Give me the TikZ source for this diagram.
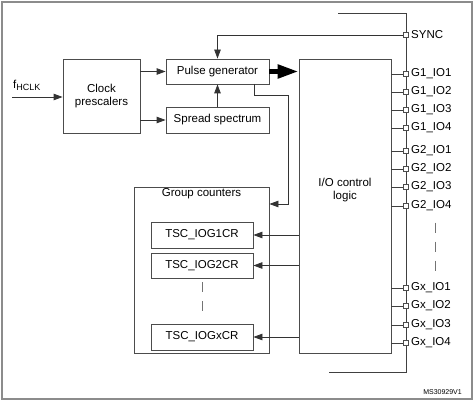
\documentclass[tikz,border=0pt]{standalone}
\usepackage{fontspec}
\setmainfont{Liberation Sans}
\usetikzlibrary{arrows.meta}

\tikzset{
  box/.style={draw=black!70,line width=0.8pt,inner sep=0pt},
  pin/.style={draw=black!70,fill=white,line width=0.6pt,minimum size=4.5pt,inner sep=0pt},
  wire/.style={draw=black!75,line width=0.8pt},
  ->/.style={draw=black!80,line width=0.8pt,-{Triangle[length=9pt,width=6.5pt]}},
  bigarrow/.style={draw=black,line width=5pt,-{Triangle[length=21pt,width=13pt]}},
  gap/.style={draw=black!55,line width=0.8pt,dash pattern=on 10pt off 9pt}
}
\tikzstyle{every node}=[color=black,font=\fontsize{11.5}{13.5}\selectfont]

\begin{document}
\begin{tikzpicture}[x=1pt,y=-1pt]
    \useasboundingbox (0,0) rectangle (474,401);
    \draw[black!45,line width=2pt] (2,2) rectangle (472,399);

    \node[box,minimum width=77pt,minimum height=74pt,align=center] (clk) at (101.5,96) {Clock\\prescalers};
    \node[box,minimum width=103pt,minimum height=25pt] (pulse) at (217.5,71.5) {Pulse generator};
    \node[box,minimum width=103pt,minimum height=26pt] (spread) at (217.5,120) {Spread spectrum};
    \node[box,minimum width=92pt,minimum height=294pt] (io) at (345,206) {};
    \node[align=center] (iotxt) at (345,190) {I/O control\\logic};

    \node[box,minimum width=135pt,minimum height=166pt] (grp) at (201.5,270) {};
    \node (grptxt) at (201.5,194) {Group counters};
    \node[box,minimum width=102pt,minimum height=26pt] (r1) at (202,235) {TSC\_IOG1CR};
    \node[box,minimum width=102pt,minimum height=25pt] (r2) at (202,265.5) {TSC\_IOG2CR};
    \node[box,minimum width=102pt,minimum height=26pt] (rx) at (202,337) {TSC\_IOGxCR};

    \coordinate (fin) at (12,97);
    \node[anchor=south west,inner sep=1pt] (ftxt) at (12,92) {f{\fontsize{9}{9}\selectfont\raisebox{-0.45ex}{HCLK}}};
    \draw [->] (fin) -- (clk.west |- fin);
    \draw [->] (clk.east |- pulse) -- (pulse.west);
    \draw [->] (clk.east |- spread) -- (spread.west);
    \draw [->] (spread.north) -- (pulse.south);
    \draw [bigarrow] (pulse.east) -- (io.west |- pulse.east);

    \coordinate (tap) at (254,84);
    \coordinate (bend) at (288,95);
    \draw [->] (tap) |- (bend) |- (grp.east |- 0,204);

    \draw [->] (io.west |- r1) -- (r1.east);
    \draw [->] (io.west |- r2) -- (r2.east);
    \draw [->] (io.west |- rx) -- (rx.east);
    \draw [gap] ([yshift=-4pt]r2.south) -- ([yshift=6pt]rx.north);

    \coordinate (bustl) at (338,13);
    \coordinate (bustop) at (406,13);
    \coordinate (busbot) at (406,372);
    \coordinate (busbl) at (329,372);
    \draw [wire] (bustl) -- (bustop) -- (busbot) -- (busbl);

    \node[pin] (sync) at (406,35) {};
    \node[anchor=west,inner sep=1pt] (synctxt) at (410,35) {SYNC};
    \draw [->] (sync.west) -| (pulse.north);

    \foreach \nm/\y/\txt in {g1a/74/G1\_IO1, g1b/92/G1\_IO2, g1c/110/G1\_IO3, g1d/128/G1\_IO4,
                             g2a/151/G2\_IO1, g2b/169/G2\_IO2, g2c/187/G2\_IO3, g2d/206/G2\_IO4,
                             gxa/288/Gx\_IO1, gxb/306/Gx\_IO2, gxc/325/Gx\_IO3, gxd/343/Gx\_IO4} {
        \draw [wire] (io.east |- 0,\y) -- (406,\y);
        \node[pin] (\nm) at (406,\y) {};
        \node[anchor=west,inner sep=1pt] (\nm txt) at (410,\y) {\txt};
    }
    \draw [gap] ([yshift=-14pt]g2d.south -| 435,0) -- ([yshift=11pt]gxa.north -| 435,0);

    \node[anchor=east,inner sep=0pt,font=\fontsize{7}{8}\selectfont] (ref) at (462,392) {MS30929V1};
\end{tikzpicture}
\end{document}
